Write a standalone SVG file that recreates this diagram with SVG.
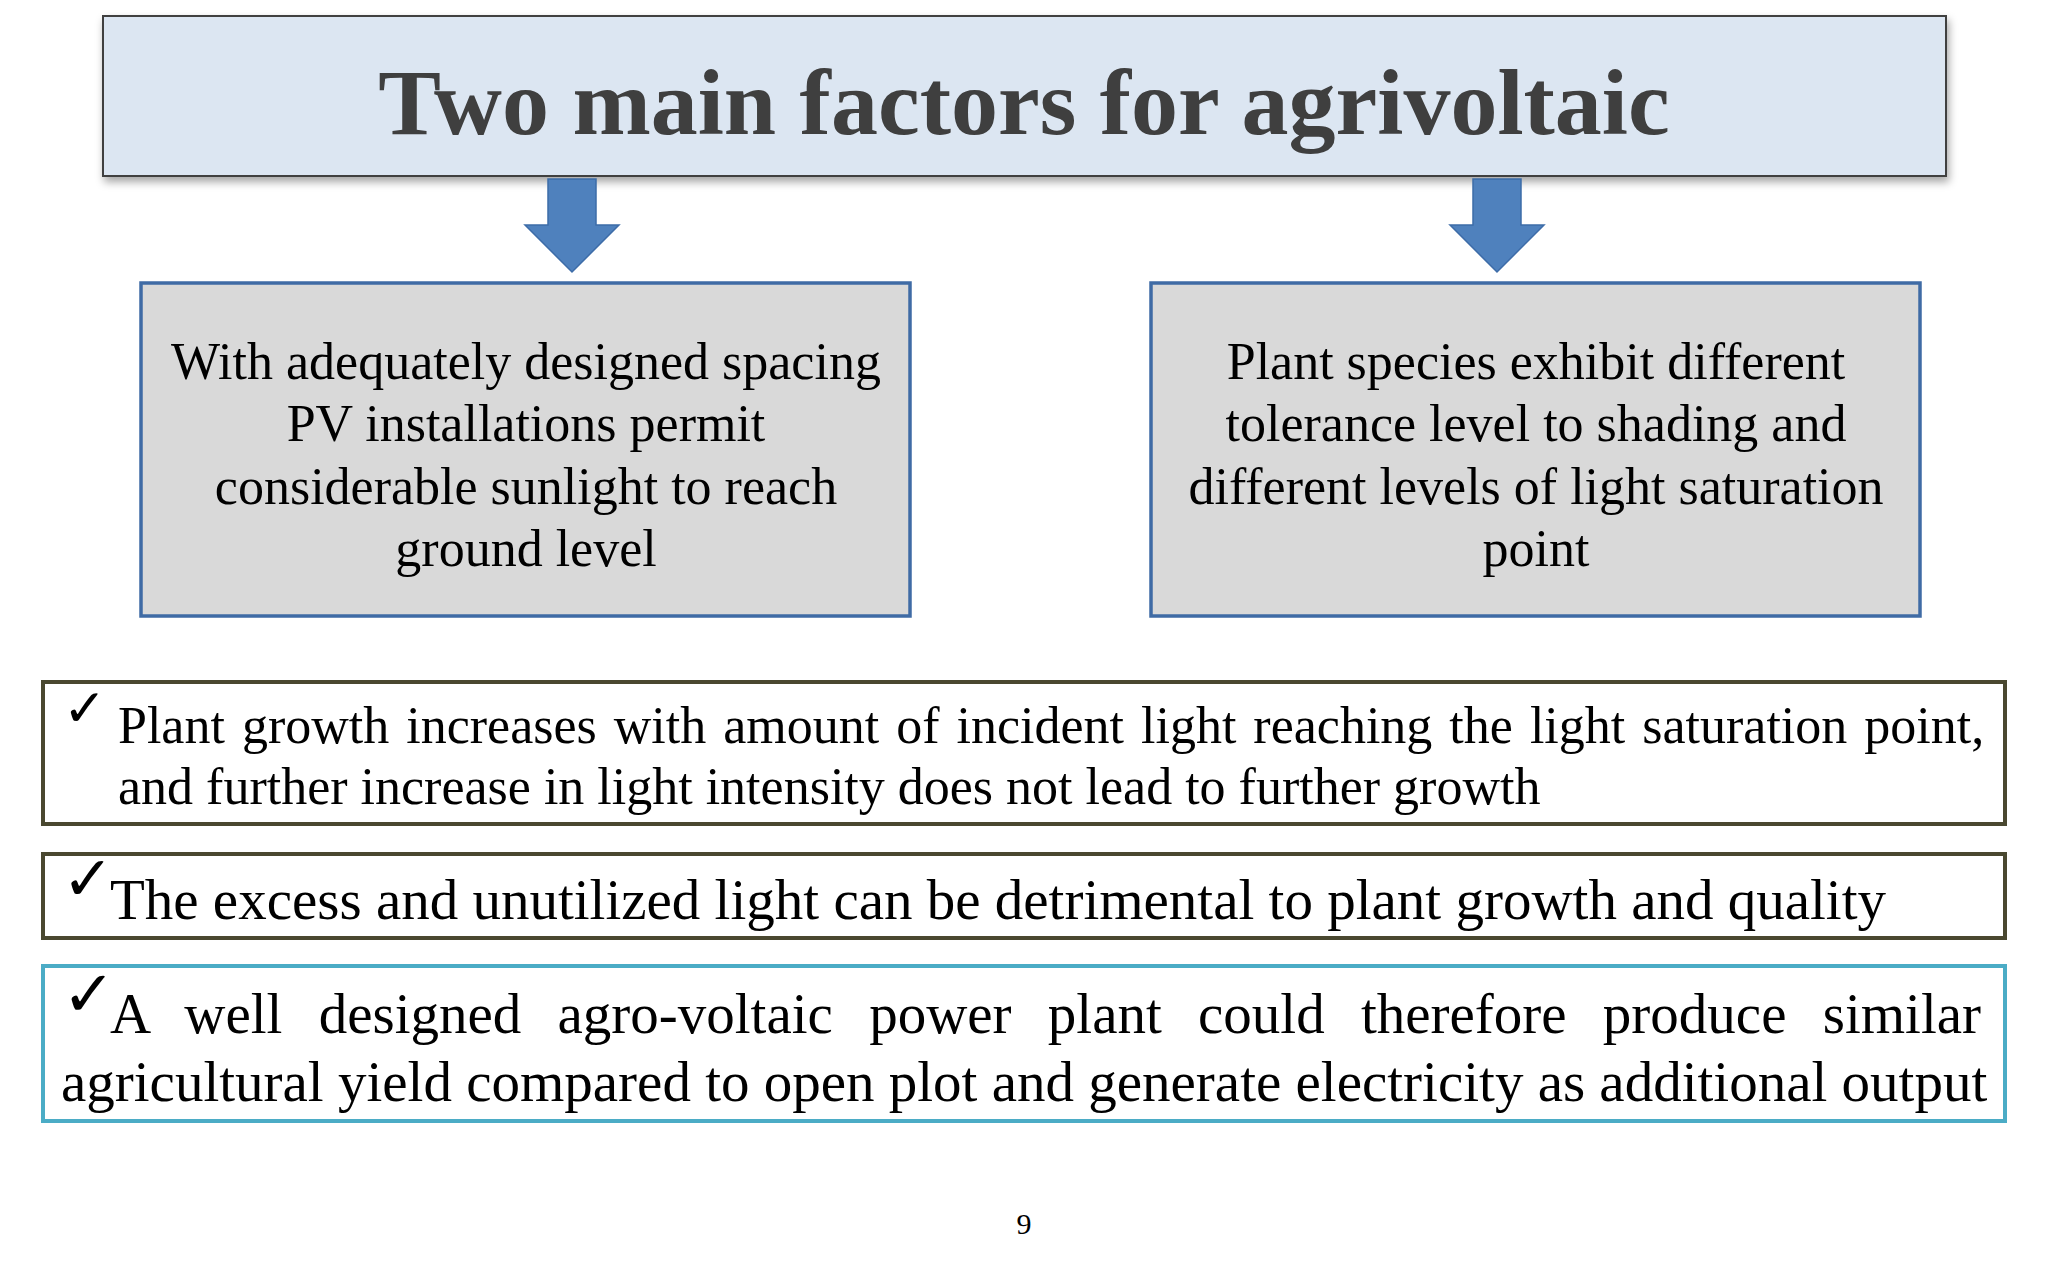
<svg xmlns="http://www.w3.org/2000/svg" width="2048" height="1280" viewBox="0 0 2048 1280">
<style>
.serif{font-family:"Liberation Serif","Times New Roman",serif;fill:#000}
.box{font-size:52px;text-anchor:middle}
.blt{font-size:52px}
.big{font-size:57px}
.chk{font-family:"DejaVu Sans",sans-serif;fill:#000}
.factor{fill:#d9d9d9;stroke:#3f6ba5;stroke-width:3.5}
.olive{fill:#fff;stroke:#4a4830;stroke-width:4}
.arrow{fill:#4f81bd;stroke:#3d6ca8;stroke-width:1.5}
</style>
<defs>
<filter id="sh" x="-5%" y="-20%" width="110%" height="150%">
<feDropShadow dx="2" dy="5" stdDeviation="4" flood-color="#000" flood-opacity="0.35"/>
</filter>
</defs>
<rect width="2048" height="1280" fill="#fff"/>
<g id="title">
<rect x="103" y="16" width="1843" height="160" fill="#dce6f2" stroke="#3f3f3f" stroke-width="2" filter="url(#sh)"/>
<text class="serif" x="1024" y="134" text-anchor="middle" font-size="94" font-weight="bold" style="fill:#3f3f3f">Two main factors for agrivoltaic</text>
</g>
<g id="connectors">
<path class="arrow" d="M548 179 H596 V225 H619 L572 272 L525 225 H548 Z"/>
<path class="arrow" d="M1473 179 H1521 V225 H1544 L1497 272 L1450 225 H1473 Z"/>
</g>
<g id="factor1">
<rect class="factor" x="141" y="283" width="769" height="333"/>
<text class="serif box" x="526" y="379">With adequately designed spacing</text>
<text class="serif box" x="526" y="441">PV installations permit</text>
<text class="serif box" x="526" y="504">considerable sunlight to reach</text>
<text class="serif box" x="526" y="566">ground level</text>
</g>
<g id="factor2">
<rect class="factor" x="1151" y="283" width="769" height="333"/>
<text class="serif box" x="1536" y="379">Plant species exhibit different</text>
<text class="serif box" x="1536" y="441">tolerance level to shading and</text>
<text class="serif box" x="1536" y="504">different levels of light saturation</text>
<text class="serif box" x="1536" y="566">point</text>
</g>
<g id="point1">
<rect class="olive" x="43" y="682" width="1962" height="142"/>
<text class="chk" x="63" y="726" font-size="52">✓</text>
<text class="serif blt" x="118" y="743" word-spacing="4">Plant growth increases with amount of incident light reaching the light saturation point,</text>
<text class="serif blt" x="118" y="804">and further increase in light intensity does not lead to further growth</text>
</g>
<g id="point2">
<rect class="olive" x="43" y="854" width="1962" height="84"/>
<text class="chk" x="62" y="900" font-size="62">✓</text>
<text class="serif big" x="110" y="919">The excess and unutilized light can be detrimental to plant growth and quality</text>
</g>
<g id="point3">
<rect x="43" y="966" width="1962" height="155" fill="#fff" stroke="#4bacc6" stroke-width="4"/>
<text class="chk" x="62" y="1016" font-size="64">✓</text>
<text class="serif big" x="110" y="1033" word-spacing="22">A well designed agro-voltaic power plant could therefore produce similar</text>
<text class="serif big" x="61" y="1101">agricultural yield compared to open plot and generate electricity as additional output</text>
</g>
<g id="page">
<text class="serif" x="1024" y="1234" text-anchor="middle" font-size="30">9</text>
</g>
</svg>
